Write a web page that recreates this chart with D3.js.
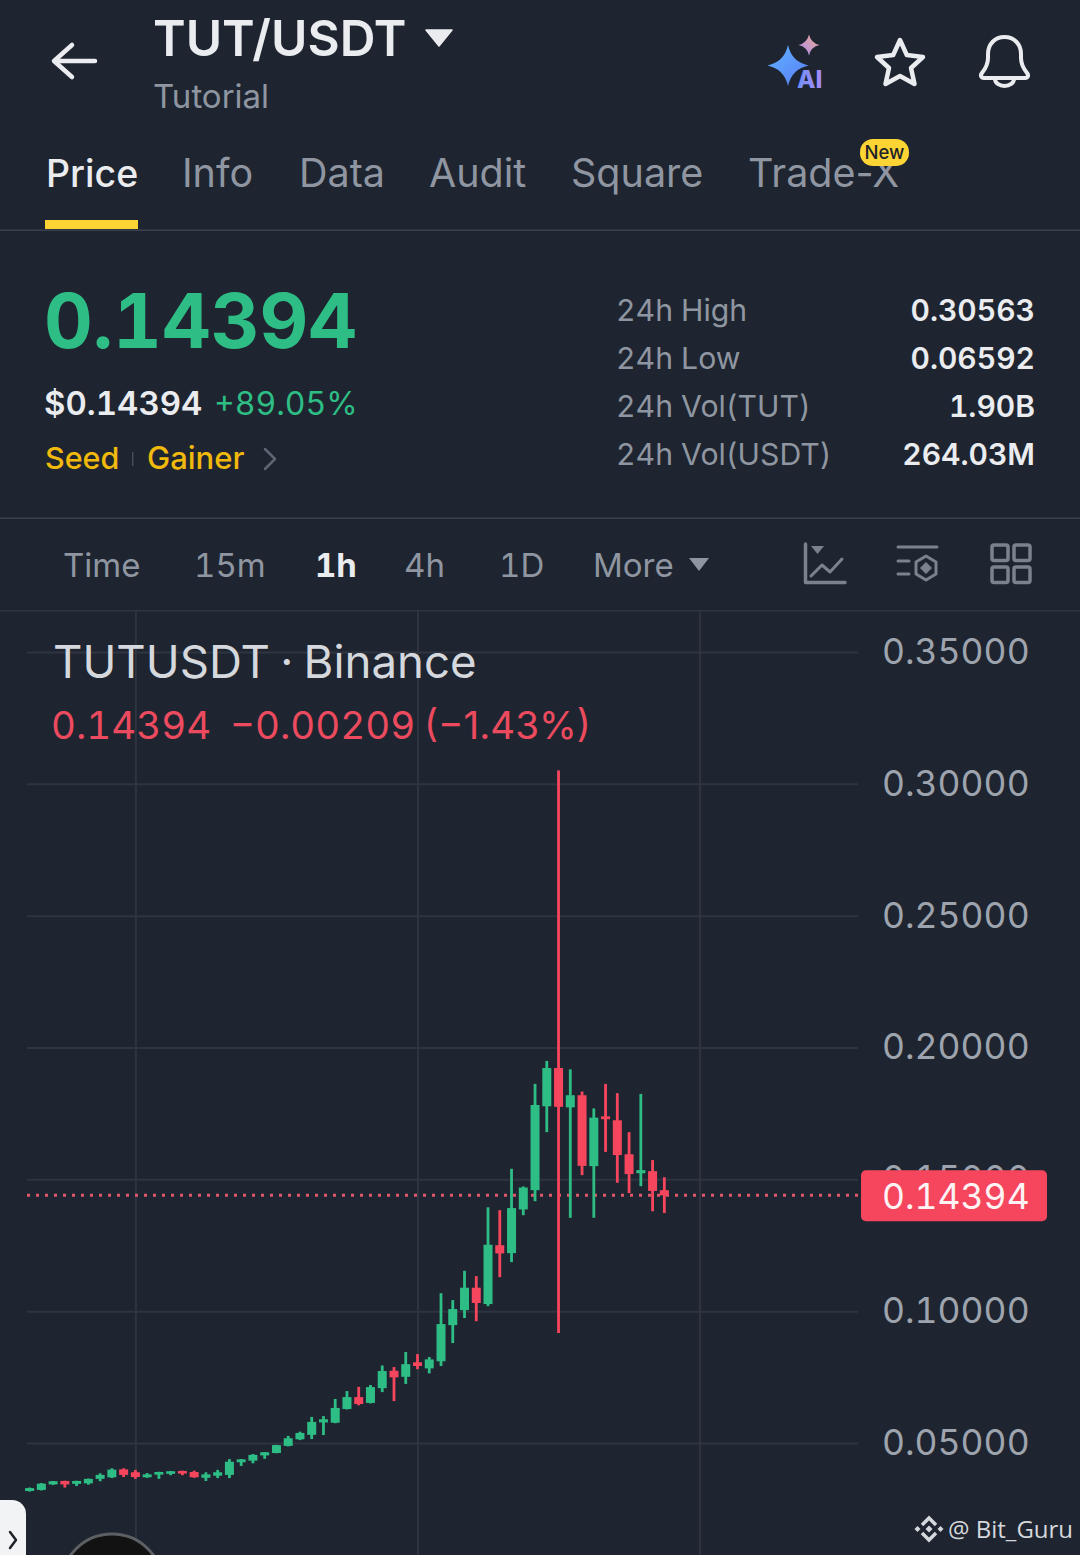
<!DOCTYPE html>
<html>
<head>
<meta charset="utf-8">
<script src="https://cdn.jsdelivr.net/npm/d3@7"></script>
<style>
  html, body { margin: 0; padding: 0; background: #1e2530; }
  svg { display: block; font-family: Inter, Roboto, sans-serif; font-variant-numeric: tabular-nums; }
</style>
</head>
<body>
<div id="chart"></div>
<script>
const opens = [
  .0318,.0322,.0343,.0356,.0345,.0347,.0364,.0370,.0400,.0389,
  .0370,.0380,.0383,.0394,.0390,.0368,.0376,.0379,.0427,.0433,
  .0453,.0462,.0489,.0514,.0531,.0578,.0577,.0629,.0674,.0652,
  .0708,.0774,.0751,.0806,.0783,.0810,.0947,.1004,.1089,.1027,
  .1250,.1220,.1386,.1459,.1777,.1922,.1773,.1819,.1550,.1739,
  .1724,.1595,.1523,.1531,.1459];
const closes = [
  .0329,.0346,.0355,.0343,.0356,.0364,.0379,.0399,.0379,.0371,
  .0381,.0390,.0393,.0384,.0370,.0381,.0389,.0429,.0438,.0455,
  .0465,.0492,.0518,.0538,.0580,.0590,.0633,.0674,.0648,.0712,
  .0773,.0749,.0799,.0792,.0817,.0951,.1008,.1089,.1031,.1252,
  .1219,.1391,.1469,.1782,.1922,.1775,.1819,.1551,.1734,.1728,
  .1592,.1520,.1535,.1456,.14394];
const highs = [
  .0331,.0348,.0356,.0357,.0357,.0365,.0385,.0404,.0404,.0398,
  .0386,.0391,.0394,.0395,.0395,.0389,.0398,.0439,.0439,.0458,
  .0466,.0493,.0527,.0543,.0599,.0602,.0667,.0697,.0713,.0720,
  .0794,.0788,.0845,.0837,.0826,.1068,.1042,.1153,.1133,.1394,
  .1383,.1540,.1473,.1862,.1949,.3051,.1917,.1833,.1769,.1862,
  .1827,.1679,.1824,.1573,.1508];
const lows = [
  .0316,.0320,.0341,.0331,.0337,.0342,.0355,.0367,.0371,.0364,
  .0368,.0364,.0378,.0378,.0368,.0356,.0367,.0367,.0413,.0423,
  .0440,.0461,.0487,.0511,.0515,.0530,.0575,.0627,.0643,.0650,
  .0693,.0659,.0724,.0780,.0764,.0792,.0879,.0974,.0962,.1019,
  .1129,.1186,.1364,.1417,.1679,.0917,.1354,.1516,.1354,.1604,
  .1487,.1448,.1474,.1379,.1372];

const priceTicks = [0.05, 0.10, 0.15, 0.20, 0.25, 0.30, 0.35];
const gridBars = [9, 33, 57];
const lastPrice = 0.14394;

const tabLabels = ['Price', 'Info', 'Data', 'Audit', 'Square', 'Trade-X'];
const statLabels = ['24h High', '24h Low', '24h Vol(TUT)', '24h Vol(USDT)'];
const statValues = ['0.30563', '0.06592', '1.90B', '264.03M'];
const intervals = ['Time', '15m', '1h', '4h', '1D', 'More'];

const width = 1080;
const height = 1555;
const bg = '#1e2530';
const green = '#2ebd85';
const red = '#f6465d';
const grey = '#8f96a1';
const white = '#eaecef';
const yellow = '#f0b90b';
const gridColor = '#2e3440';

const svg = d3.select('#chart').append('svg')
  .attr('width', width)
  .attr('height', height)
  .style('background', bg);

const defs = svg.append('defs');
const blue = defs.append('linearGradient').attr('id', 'aiBlue').attr('x1', 0).attr('x2', 1).attr('y1', 0).attr('y2', 1);
blue.append('stop').attr('offset', 0).attr('stop-color', '#5fb4ff');
blue.append('stop').attr('offset', 1).attr('stop-color', '#5a7cf5');
const pink = defs.append('linearGradient').attr('id', 'aiPink').attr('x1', 1).attr('x2', 0).attr('y1', 0).attr('y2', 1);
pink.append('stop').attr('offset', 0).attr('stop-color', '#f0a98e');
pink.append('stop').attr('offset', 1).attr('stop-color', '#a78bf5');
const ai = defs.append('linearGradient').attr('id', 'aiText').attr('x1', 0).attr('x2', 1).attr('y1', 0).attr('y2', 0);
ai.append('stop').attr('offset', 0).attr('stop-color', '#6f8ff7');
ai.append('stop').attr('offset', 1).attr('stop-color', '#a98cf5');

function label(text, x, y, size, fill, weight, anchor) {
  return svg.append('text')
    .attr('x', x)
    .attr('y', y)
    .attr('font-size', size)
    .attr('fill', fill)
    .attr('font-weight', weight || 400)
    .attr('text-anchor', anchor || 'start')
    .text(text);
}

function icon(d, stroke, sw, fill) {
  return svg.append('path')
    .attr('d', d)
    .attr('fill', fill || 'none')
    .attr('stroke', stroke)
    .attr('stroke-width', sw)
    .attr('stroke-linejoin', 'round')
    .attr('stroke-linecap', 'round');
}

function sparkle(cx, cy, r, fill) {
  const k = r * 0.18;
  const d = `M${cx} ${cy - r}Q${cx + k} ${cy - k} ${cx + r} ${cy}Q${cx + k} ${cy + k} ${cx} ${cy + r}Q${cx - k} ${cy + k} ${cx - r} ${cy}Q${cx - k} ${cy - k} ${cx} ${cy - r}Z`;
  svg.append('path').attr('d', d).attr('fill', fill);
}

// header
icon('M95 61H55M72 45L54 61L72 77', white, 4.5);
label('TUT/USDT', 153, 56, 49.5, white, 600);
svg.append('path').attr('d', 'M426 30H452L439 46Z').attr('fill', white).attr('stroke', white).attr('stroke-width', 1.5).attr('stroke-linejoin', 'round');
label('Tutorial', 153, 108, 33, grey);

sparkle(788, 65.5, 20.5, 'url(#aiBlue)');
sparkle(809, 45, 10.5, 'url(#aiPink)');
label('AI', 797, 88, 24, 'url(#aiText)', 800);

icon('M900 40L906.8 55L923 57L911 68L914.5 84L900 76L885.5 84L889 68L877 57L893.2 55Z', white, 4.5);
icon('M984 78H1025C1028 78 1029 75 1027 73C1023 68 1021 64 1021 58V54C1021 44 1014 37 1004.5 37S988 44 988 54V58C988 64 986 68 982 73C980 75 981 78 984 78ZM995 79A9.5 7 0 0 0 1014 79', white, 4);

// tabs
const tabX = [46, 182, 299, 429, 571, 748];
tabLabels.forEach((t, i) => {
  label(t, tabX[i], 187, i === 0 ? 37.5 : 39.5, i === 0 ? white : grey, i === 0 ? 500 : 400)
    .style('font-variant-numeric', 'normal');
});
svg.append('rect').attr('x', 45).attr('y', 220).attr('width', 93).attr('height', 9).attr('fill', '#fcd535');
svg.append('rect').attr('x', 860).attr('y', 139).attr('width', 49).attr('height', 27).attr('rx', 13).attr('fill', '#fcd535');
label('New', 884.5, 159, 18.5, '#1e2329', 500, 'middle');
svg.append('rect').attr('x', 0).attr('y', 229.5).attr('width', width).attr('height', 1.5).attr('fill', '#3a414c');

// price block
label('0.14394', 44, 348, 75.5, green, 700);
label('$0.14394', 44, 415, 33, white, 600);
label('+89.05%', 214, 415, 32, green, 400);
label('Seed', 45, 469, 30.5, yellow, 500);
svg.append('rect').attr('x', 132).attr('y', 452).attr('width', 1.5).attr('height', 14).attr('fill', '#474d57');
label('Gainer', 147, 469, 31, yellow, 500);
icon('M265 449L275 459L265 469', '#5e6673', 2.5);

statLabels.forEach((t, i) => {
  label(t, 616, 321 + i * 48, 30.2, grey);
  label(statValues[i], 1035, 321 + i * 48, 30, white, 600, 'end');
});
svg.append('rect').attr('x', 0).attr('y', 517.5).attr('width', width).attr('height', 1.5).attr('fill', '#3a414c');

// interval bar
const intervalX = [63, 194, 315, 404, 499, 593];
intervals.forEach((t, i) => {
  label(t, intervalX[i], 577, 33, i === 2 ? white : grey, i === 2 ? 700 : 400);
});
svg.append('path').attr('d', 'M689 558H709L699 571Z').attr('fill', grey);

const iconGrey = '#7b828e';
icon('M805.5 544V582.5H845', iconGrey, 3.5);
svg.append('path').attr('d', 'M811 546H824L817.5 554Z').attr('fill', iconGrey);
icon('M811 576L822 565L830 572L842 559', iconGrey, 3);
icon('M898 547H937M898 561H909M898 574H909', iconGrey, 3);
icon('M926 556L936 562V574L926 580L916 574V562Z', iconGrey, 3);
svg.append('path').attr('d', 'M926 562L932 568L926 574L920 568Z').attr('fill', iconGrey);
[[992, 545], [1014, 545], [992, 567], [1014, 567]].forEach(p => {
  svg.append('rect').attr('x', p[0]).attr('y', p[1]).attr('width', 16).attr('height', 15.5).attr('rx', 2)
    .attr('fill', 'none').attr('stroke', iconGrey).attr('stroke-width', 3.5);
});
svg.append('rect').attr('x', 0).attr('y', 610).attr('width', width).attr('height', 1.5).attr('fill', gridColor);

// chart
const x = d3.scaleLinear().domain([0, 57]).range([29.6, 699.6]);
const y = d3.scaleLinear().domain([0.05, 0.35]).range([1443, 652]);

const xAxis = d3.axisBottom(x)
  .tickValues(gridBars)
  .tickSize(-(height - 611))
  .tickFormat('');

const yAxis = d3.axisRight(y)
  .tickValues(priceTicks)
  .tickSize(-(858 - 27))
  .tickPadding(24)
  .tickFormat(d3.format('.5f'));

const gx = svg.append('g')
  .attr('class', 'x axis')
  .attr('transform', `translate(0,${height})`)
  .call(xAxis);
gx.select('.domain').remove();
gx.selectAll('line').attr('stroke', gridColor).attr('stroke-width', 2);

const gy = svg.append('g')
  .attr('class', 'y axis')
  .attr('transform', 'translate(858,0)')
  .call(yAxis);
gy.select('.domain').remove();
gy.selectAll('line').attr('stroke', gridColor).attr('stroke-width', 2);
gy.selectAll('text')
  .attr('font-size', 35.5)
  .attr('font-family', 'Inter, Roboto, sans-serif')
  .attr('fill', '#9ea4ad');

label('TUTUSDT · Binance', 53, 678, 45.6, '#d5d8dc').attr('word-spacing', -2);

const change = label('', 51, 739, 38.5, '#ec4b5f');
change.append('tspan').attr('x', 51).text('0.14394');
change.append('tspan').attr('x', 230).text('−0.00209');
change.append('tspan').attr('x', 424).style('font-variant-numeric', 'normal').text('(−1.43%)');

svg.append('line')
  .attr('x1', 27)
  .attr('x2', 858)
  .attr('y1', y(lastPrice))
  .attr('y2', y(lastPrice))
  .attr('stroke', '#e0566a')
  .attr('stroke-width', 3)
  .attr('stroke-dasharray', '3 6');

const bars = svg.selectAll('.bar')
  .data(opens.map((o, i) => i))
  .enter().append('g')
  .attr('class', 'bar')
  .attr('fill', i => closes[i] >= opens[i] ? green : red);

bars.append('rect')
  .attr('x', i => x(i) - 1.4)
  .attr('width', 2.8)
  .attr('y', i => y(highs[i]))
  .attr('height', i => y(lows[i]) - y(highs[i]));

bars.append('rect')
  .attr('x', i => x(i) - 4.5)
  .attr('width', 9)
  .attr('y', i => y(Math.max(opens[i], closes[i])))
  .attr('height', i => Math.max(2, Math.abs(y(opens[i]) - y(closes[i]))));

// last price tag
svg.append('rect')
  .attr('x', 861)
  .attr('y', y(lastPrice) - 25)
  .attr('width', 186)
  .attr('height', 51)
  .attr('rx', 5)
  .attr('fill', red);
label(d3.format('.5f')(lastPrice), 882, y(lastPrice) + 13.5, 35.5, '#fdf3f4');

// bottom left controls
svg.append('rect').attr('x', -20).attr('y', 1500).attr('width', 46).attr('height', 80).attr('rx', 14).attr('fill', '#f2f3f5');
icon('M10 1532L16 1540L10 1548', '#1e2329', 2.5);
svg.append('circle').attr('cx', 112).attr('cy', 1585).attr('r', 51).attr('fill', '#121212').attr('stroke', '#5c5f64').attr('stroke-width', 3);

// watermark
const wm = '#d5d8dc';
icon('M922 1525L929 1518L936 1525M922 1533L929 1540L936 1533', wm, 3.5).attr('stroke-linecap', 'butt').attr('stroke-linejoin', 'miter');
[[917.5, 1529, 3], [940.5, 1529, 3], [929, 1529, 3.5]].forEach(p => {
  const [cx, cy, r] = p;
  svg.append('path').attr('d', `M${cx} ${cy - r}L${cx + r} ${cy}L${cx} ${cy + r}L${cx - r} ${cy}Z`).attr('fill', wm);
});
label('@ Bit_Guru', 948, 1538, 24, wm).attr('font-family', '"Open Sans", sans-serif');
</script>
</body>
</html>
